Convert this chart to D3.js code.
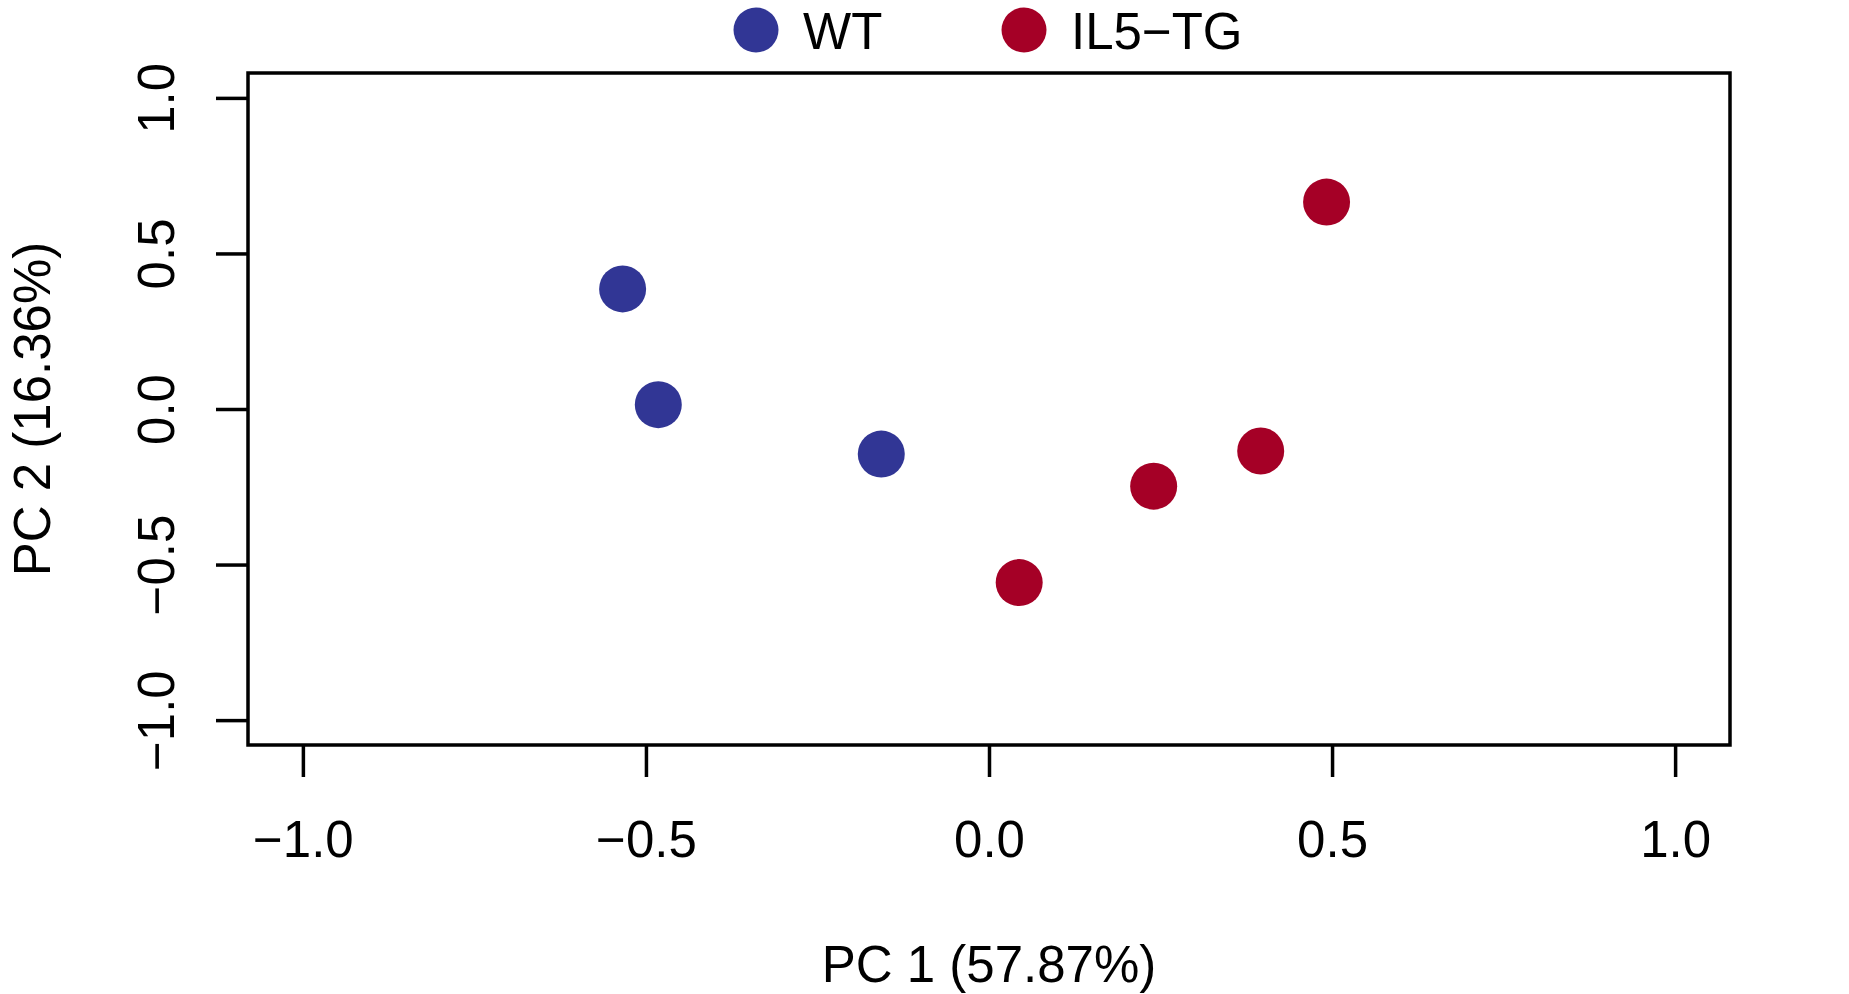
<!DOCTYPE html>
<html>
<head>
<meta charset="utf-8">
<script src="https://cdn.jsdelivr.net/npm/d3@7"></script>
<style>
	body { margin: 0; background: #fff; }
	text { font-family: "Liberation Sans", Arial, sans-serif; fill: #000; }
</style>
</head>
<body>
<svg id="chart" width="1849" height="994"></svg>
<script>
/*
 * PCA scatter: PC 1 vs PC 2, WT vs IL5-TG
 */

// ** Data **
const groupNames  = ["WT", "IL5\u2212TG"];
const groupColors = ["#313695", "#A50026"];

const sampleGroup = [0, 0, 0, 1, 1, 1, 1];
const pc1 = [-0.534, -0.482, -0.157, 0.492, 0.396, 0.240, 0.044];
const pc2 = [ 0.386,  0.014, -0.145, 0.665, -0.135, -0.248, -0.558];

const tickValues = [-1, -0.5, 0, 0.5, 1];
const xTitle = "PC 1 (57.87%)";
const yTitle = "PC 2 (16.36%)";

// ** Layout constants **
const plotLeft = 248, plotRight = 1730, plotTop = 73, plotBottom = 745;
const pointRadius = 23.5;
const fontSize = 51;
const tickLen = 32;
const lineW = 3.5;

let svg = d3.select("#chart");

// R style: limits expanded by 4%
let x = d3.scaleLinear().domain([-1.08, 1.08]).range([plotLeft, plotRight]);
let y = d3.scaleLinear().domain([-1.08, 1.08]).range([plotBottom, plotTop]);

// points
let samples = pc1.map(function(v, i) {
	return { x: v, y: pc2[i], g: sampleGroup[i] };
});

svg.append("g")
	.selectAll("circle")
	.data(samples)
	.join("circle")
	.attr("cx", d => x(d.x))
	.attr("cy", d => y(d.y))
	.attr("r", pointRadius)
	.style("fill", d => groupColors[d.g]);

// box
svg.append("rect")
	.attr("x", plotLeft)
	.attr("y", plotTop)
	.attr("width", plotRight - plotLeft)
	.attr("height", plotBottom - plotTop)
	.style("fill", "none")
	.style("stroke", "#000")
	.style("stroke-width", lineW);

// x axis
let fmt = d3.format(".1f");
let xAxis = svg.append("g")
	.attr("transform", "translate(0," + plotBottom + ")")
	.call(d3.axisBottom(x).tickValues(tickValues).tickFormat(fmt)
		.tickSize(tickLen).tickPadding(44));
xAxis.select(".domain").remove();
xAxis.selectAll(".tick line").style("stroke", "#000").style("stroke-width", lineW);
xAxis.selectAll(".tick text")
	.style("font-size", fontSize + "px")
	.style("font-family", "'Liberation Sans', Arial, sans-serif")
	.attr("fill", "#000");

// y axis (labels parallel to the axis)
let yAxis = svg.append("g")
	.attr("transform", "translate(" + plotLeft + ",0)")
	.call(d3.axisLeft(y).tickValues(tickValues).tickFormat(fmt).tickSize(tickLen));
yAxis.select(".domain").remove();
yAxis.selectAll(".tick line").style("stroke", "#000").style("stroke-width", lineW);
yAxis.selectAll(".tick text")
	.attr("x", 0)
	.attr("dy", 0)
	.attr("transform", "translate(-74,0) rotate(-90)")
	.attr("text-anchor", "middle")
	.attr("fill", "#000")
	.style("font-size", fontSize + "px")
	.style("font-family", "'Liberation Sans', Arial, sans-serif");

// axis titles
svg.append("text")
	.attr("x", (plotLeft + plotRight) / 2)
	.attr("y", 982)
	.attr("text-anchor", "middle")
	.style("font-size", fontSize + "px")
	.text(xTitle);

svg.append("text")
	.attr("transform", "translate(50," + (plotTop + plotBottom) / 2 + ") rotate(-90)")
	.attr("text-anchor", "middle")
	.style("font-size", fontSize + "px")
	.text(yTitle);

// legend on top
let legend = svg.append("g")
	.selectAll("g")
	.data(groupNames)
	.join("g")
	.attr("transform", (d, i) => "translate(" + (756 + i * 268) + ",30)");

legend.append("circle")
	.attr("r", 22.5)
	.style("fill", (d, i) => groupColors[i]);

legend.append("text")
	.attr("x", 47)
	.attr("y", 18.5)
	.style("font-size", fontSize + "px")
	.text(d => d);
</script>
</body>
</html>
